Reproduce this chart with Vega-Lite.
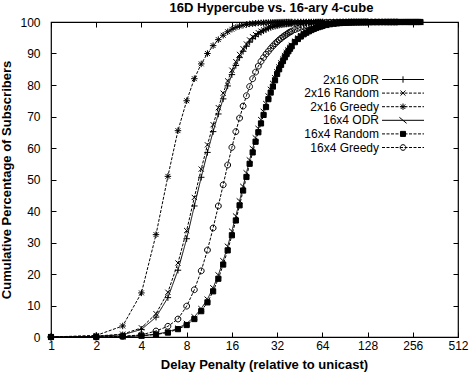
{
  "$schema": "https://vega.github.io/schema/vega-lite/v6.json",
  "width": 407,
  "height": 315,
  "autosize": "none",
  "padding": {"left": 51, "top": 22, "right": 16, "bottom": 44},
  "background": "white",
  "title": {"text": "16D Hypercube vs. 16-ary 4-cube", "font": "Liberation Sans", "fontSize": 13, "fontWeight": "bold", "color": "black", "dx": 17, "baseline": "bottom", "offset": 8, "dy": 20},
  "config": {
    "font": "Liberation Sans",
    "view": {"stroke": "black", "strokeWidth": 1.2},
    "axis": {"domain": false, "grid": false, "tickColor": "black", "tickSize": -5, "tickWidth": 1, "labelColor": "black", "labelFont": "Liberation Sans", "labelFontSize": 12, "titleColor": "black", "titleFont": "Liberation Sans", "titleFontSize": 13, "titleFontWeight": "bold"}
  },
  "data": {"values": [
    {"x":1,"2x16 ODR":0,"2x16 Random":0,"2x16 Greedy":0,"16x4 ODR":0,"16x4 Random":0,"16x4 Greedy":0},
    {"x":2,"2x16 ODR":0.2,"2x16 Random":0.3,"2x16 Greedy":0.5,"16x4 ODR":0,"16x4 Random":0,"16x4 Greedy":0},
    {"x":3,"2x16 ODR":0.7,"2x16 Random":0.9,"2x16 Greedy":3.5,"16x4 ODR":0.1,"16x4 Random":0.2,"16x4 Greedy":0.2},
    {"x":4,"2x16 ODR":2.4,"2x16 Random":2.9,"2x16 Greedy":14,"16x4 ODR":0.4,"16x4 Random":0.4,"16x4 Greedy":0.7},
    {"x":5,"2x16 ODR":6.3,"2x16 Random":7.4,"2x16 Greedy":32.5,"16x4 ODR":0.9,"16x4 Random":0.8,"16x4 Greedy":1.9},
    {"x":6,"2x16 ODR":12.5,"2x16 Random":14.2,"2x16 Greedy":51,"16x4 ODR":1.6,"16x4 Random":1.4,"16x4 Greedy":3.4},
    {"x":7,"2x16 ODR":21.2,"2x16 Random":23.5,"2x16 Greedy":65.5,"16x4 ODR":2.8,"16x4 Random":2.5,"16x4 Greedy":5.7},
    {"x":8,"2x16 ODR":31.2,"2x16 Random":33.8,"2x16 Greedy":75,"16x4 ODR":4.3,"16x4 Random":3.8,"16x4 Greedy":9.8},
    {"x":9,"2x16 ODR":41.6,"2x16 Random":44.3,"2x16 Greedy":82,"16x4 ODR":6.4,"16x4 Random":5.7,"16x4 Greedy":15},
    {"x":10,"2x16 ODR":50.7,"2x16 Random":53.3,"2x16 Greedy":86.7,"16x4 ODR":9,"16x4 Random":8.2,"16x4 Greedy":21},
    {"x":11,"2x16 ODR":58.6,"2x16 Random":61,"2x16 Greedy":90,"16x4 ODR":12,"16x4 Random":11,"16x4 Greedy":27.6},
    {"x":12,"2x16 ODR":65.2,"2x16 Random":67.4,"2x16 Greedy":92.5,"16x4 ODR":15.6,"16x4 Random":14.5,"16x4 Greedy":34.6},
    {"x":13,"2x16 ODR":70.8,"2x16 Random":72.8,"2x16 Greedy":94.4,"16x4 ODR":19.7,"16x4 Random":18.5,"16x4 Greedy":41.6},
    {"x":14,"2x16 ODR":75.6,"2x16 Random":77.4,"2x16 Greedy":95.8,"16x4 ODR":24.2,"16x4 Random":23,"16x4 Greedy":48.3},
    {"x":15,"2x16 ODR":79.7,"2x16 Random":81.3,"2x16 Greedy":96.9,"16x4 ODR":28.8,"16x4 Random":27.5,"16x4 Greedy":54.6},
    {"x":16,"2x16 ODR":83.3,"2x16 Random":84.7,"2x16 Greedy":97.7,"16x4 ODR":33.6,"16x4 Random":32.3,"16x4 Greedy":60.2},
    {"x":17,"2x16 ODR":86.2,"2x16 Random":87.4,"2x16 Greedy":98.3,"16x4 ODR":38.4,"16x4 Random":37,"16x4 Greedy":65.2},
    {"x":18,"2x16 ODR":88.7,"2x16 Random":89.7,"2x16 Greedy":98.7,"16x4 ODR":43.2,"16x4 Random":41.8,"16x4 Greedy":69.5},
    {"x":19,"2x16 ODR":90.7,"2x16 Random":91.5,"2x16 Greedy":99,"16x4 ODR":47.8,"16x4 Random":46.5,"16x4 Greedy":73.3},
    {"x":20,"2x16 ODR":92.3,"2x16 Random":93,"2x16 Greedy":99.2,"16x4 ODR":52.1,"16x4 Random":50.8,"16x4 Greedy":76.6},
    {"x":21,"2x16 ODR":93.6,"2x16 Random":94.3,"2x16 Greedy":99.4,"16x4 ODR":56.2,"16x4 Random":55,"16x4 Greedy":79.5},
    {"x":22,"2x16 ODR":94.7,"2x16 Random":95.3,"2x16 Greedy":99.5,"16x4 ODR":59.8,"16x4 Random":58.6,"16x4 Greedy":82},
    {"x":23,"2x16 ODR":95.5,"2x16 Random":96,"2x16 Greedy":99.6,"16x4 ODR":63.2,"16x4 Random":62,"16x4 Greedy":84.1},
    {"x":24,"2x16 ODR":96.2,"2x16 Random":96.6,"2x16 Greedy":99.7,"16x4 ODR":66.2,"16x4 Random":65,"16x4 Greedy":86},
    {"x":25,"2x16 ODR":96.8,"2x16 Random":97.1,"2x16 Greedy":99.75,"16x4 ODR":69,"16x4 Random":67.8,"16x4 Greedy":87.5},
    {"x":26,"2x16 ODR":97.2,"2x16 Random":97.5,"2x16 Greedy":99.8,"16x4 ODR":71.6,"16x4 Random":70.5,"16x4 Greedy":88.7},
    {"x":27,"2x16 ODR":97.6,"2x16 Random":97.9,"2x16 Greedy":99.82,"16x4 ODR":74.1,"16x4 Random":73,"16x4 Greedy":89.8},
    {"x":28,"2x16 ODR":98,"2x16 Random":98.2,"2x16 Greedy":99.85,"16x4 ODR":76.5,"16x4 Random":75.5,"16x4 Greedy":90.7},
    {"x":29,"2x16 ODR":98.3,"2x16 Random":98.5,"2x16 Greedy":99.87,"16x4 ODR":78.6,"16x4 Random":77.6,"16x4 Greedy":91.6},
    {"x":30,"2x16 ODR":98.5,"2x16 Random":98.7,"2x16 Greedy":99.9,"16x4 ODR":80.5,"16x4 Random":79.5,"16x4 Greedy":92.4},
    {"x":31,"2x16 ODR":98.7,"2x16 Random":98.85,"2x16 Greedy":99.92,"16x4 ODR":82.3,"16x4 Random":81.5,"16x4 Greedy":93.1},
    {"x":32,"2x16 ODR":98.8,"2x16 Random":99,"2x16 Greedy":99.94,"16x4 ODR":84.2,"16x4 Random":83.5,"16x4 Greedy":93.7},
    {"x":33,"2x16 ODR":99,"2x16 Random":99.1,"2x16 Greedy":99.95,"16x4 ODR":85.7,"16x4 Random":85,"16x4 Greedy":94.3},
    {"x":34,"2x16 ODR":99.1,"2x16 Random":99.2,"2x16 Greedy":99.96,"16x4 ODR":87,"16x4 Random":86.4,"16x4 Greedy":94.8},
    {"x":35,"2x16 ODR":99.2,"2x16 Random":99.3,"2x16 Greedy":99.97,"16x4 ODR":88.2,"16x4 Random":87.6,"16x4 Greedy":95.3},
    {"x":36,"2x16 ODR":99.3,"2x16 Random":99.38,"2x16 Greedy":99.98,"16x4 ODR":89.3,"16x4 Random":88.8,"16x4 Greedy":95.7},
    {"x":37,"2x16 ODR":99.35,"2x16 Random":99.45,"2x16 Greedy":99.98,"16x4 ODR":90.3,"16x4 Random":89.8,"16x4 Greedy":96.1},
    {"x":38,"2x16 ODR":99.4,"2x16 Random":99.5,"2x16 Greedy":99.99,"16x4 ODR":91.1,"16x4 Random":90.7,"16x4 Greedy":96.5},
    {"x":39,"2x16 ODR":99.45,"2x16 Random":99.55,"2x16 Greedy":99.99,"16x4 ODR":91.9,"16x4 Random":91.5,"16x4 Greedy":96.8},
    {"x":40,"2x16 ODR":99.5,"2x16 Random":99.6,"2x16 Greedy":100,"16x4 ODR":92.6,"16x4 Random":92.3,"16x4 Greedy":97.1},
    {"x":42,"2x16 ODR":99.6,"2x16 Random":99.68,"2x16 Greedy":100,"16x4 ODR":93.9,"16x4 Random":93.6,"16x4 Greedy":97.6},
    {"x":44,"2x16 ODR":99.68,"2x16 Random":99.75,"2x16 Greedy":100,"16x4 ODR":94.9,"16x4 Random":94.6,"16x4 Greedy":98},
    {"x":46,"2x16 ODR":99.75,"2x16 Random":99.8,"2x16 Greedy":100,"16x4 ODR":95.7,"16x4 Random":95.4,"16x4 Greedy":98.35},
    {"x":48,"2x16 ODR":99.8,"2x16 Random":99.84,"2x16 Greedy":100,"16x4 ODR":96.3,"16x4 Random":96.1,"16x4 Greedy":98.65},
    {"x":50,"2x16 ODR":99.84,"2x16 Random":99.87,"2x16 Greedy":100,"16x4 ODR":96.8,"16x4 Random":96.6,"16x4 Greedy":98.9},
    {"x":52,"2x16 ODR":99.87,"2x16 Random":99.9,"2x16 Greedy":100,"16x4 ODR":97.2,"16x4 Random":97.05,"16x4 Greedy":99.1},
    {"x":54,"2x16 ODR":99.9,"2x16 Random":99.92,"2x16 Greedy":100,"16x4 ODR":97.6,"16x4 Random":97.45,"16x4 Greedy":99.25},
    {"x":56,"2x16 ODR":99.92,"2x16 Random":99.94,"2x16 Greedy":100,"16x4 ODR":97.9,"16x4 Random":97.8,"16x4 Greedy":99.38},
    {"x":58,"2x16 ODR":99.94,"2x16 Random":99.95,"2x16 Greedy":100,"16x4 ODR":98.2,"16x4 Random":98.1,"16x4 Greedy":99.5},
    {"x":60,"2x16 ODR":99.95,"2x16 Random":99.96,"2x16 Greedy":100,"16x4 ODR":98.45,"16x4 Random":98.35,"16x4 Greedy":99.58},
    {"x":62,"2x16 ODR":99.96,"2x16 Random":99.97,"2x16 Greedy":100,"16x4 ODR":98.65,"16x4 Random":98.55,"16x4 Greedy":99.66},
    {"x":64,"2x16 ODR":99.97,"2x16 Random":99.98,"2x16 Greedy":100,"16x4 ODR":98.85,"16x4 Random":98.75,"16x4 Greedy":99.72},
    {"x":68,"2x16 ODR":99.98,"2x16 Random":99.99,"16x4 ODR":99.1,"16x4 Random":99.05,"16x4 Greedy":99.8},
    {"x":72,"2x16 ODR":99.99,"2x16 Random":100,"16x4 ODR":99.35,"16x4 Random":99.3,"16x4 Greedy":99.86},
    {"x":76,"2x16 ODR":100,"2x16 Random":100,"16x4 ODR":99.5,"16x4 Random":99.45,"16x4 Greedy":99.9},
    {"x":80,"2x16 ODR":100,"2x16 Random":100,"16x4 ODR":99.6,"16x4 Random":99.57,"16x4 Greedy":99.93},
    {"x":84,"2x16 ODR":100,"2x16 Random":100,"16x4 ODR":99.68,"16x4 Random":99.66,"16x4 Greedy":99.95},
    {"x":88,"2x16 ODR":100,"2x16 Random":100,"16x4 ODR":99.75,"16x4 Random":99.73,"16x4 Greedy":99.96},
    {"x":92,"2x16 ODR":100,"2x16 Random":100,"16x4 ODR":99.8,"16x4 Random":99.78,"16x4 Greedy":99.97},
    {"x":96,"2x16 ODR":100,"2x16 Random":100,"16x4 ODR":99.84,"16x4 Random":99.82,"16x4 Greedy":99.98},
    {"x":100,"2x16 ODR":100,"2x16 Random":100,"16x4 ODR":99.87,"16x4 Random":99.85,"16x4 Greedy":99.99},
    {"x":104,"2x16 ODR":100,"2x16 Random":100,"16x4 ODR":99.89,"16x4 Random":99.88,"16x4 Greedy":100},
    {"x":108,"2x16 ODR":100,"2x16 Random":100,"16x4 ODR":99.91,"16x4 Random":99.9,"16x4 Greedy":100},
    {"x":112,"2x16 ODR":100,"2x16 Random":100,"16x4 ODR":99.92,"16x4 Random":99.92,"16x4 Greedy":100},
    {"x":116,"2x16 ODR":100,"2x16 Random":100,"16x4 ODR":99.93,"16x4 Random":99.93,"16x4 Greedy":100},
    {"x":120,"2x16 ODR":100,"2x16 Random":100,"16x4 ODR":99.94,"16x4 Random":99.94,"16x4 Greedy":100},
    {"x":124,"2x16 ODR":100,"2x16 Random":100,"16x4 ODR":99.95,"16x4 Random":99.95,"16x4 Greedy":100},
    {"x":128,"2x16 ODR":100,"2x16 Random":100,"16x4 ODR":99.96,"16x4 Random":99.96,"16x4 Greedy":100},
    {"x":136,"16x4 ODR":99.97,"16x4 Random":99.97,"16x4 Greedy":100},
    {"x":144,"16x4 ODR":99.98,"16x4 Random":99.98,"16x4 Greedy":100},
    {"x":152,"16x4 ODR":99.98,"16x4 Random":99.98,"16x4 Greedy":100},
    {"x":160,"16x4 ODR":99.99,"16x4 Random":99.99,"16x4 Greedy":100},
    {"x":168,"16x4 ODR":99.99,"16x4 Random":99.99,"16x4 Greedy":100},
    {"x":176,"16x4 ODR":99.99,"16x4 Random":99.99,"16x4 Greedy":100},
    {"x":184,"16x4 ODR":99.99,"16x4 Random":99.99,"16x4 Greedy":100},
    {"x":192,"16x4 ODR":99.99,"16x4 Random":99.99,"16x4 Greedy":100},
    {"x":200,"16x4 ODR":99.99,"16x4 Random":99.99,"16x4 Greedy":100},
    {"x":208,"16x4 ODR":100,"16x4 Random":100},
    {"x":216,"16x4 ODR":100,"16x4 Random":100},
    {"x":224,"16x4 ODR":100,"16x4 Random":100},
    {"x":232,"16x4 ODR":100,"16x4 Random":100},
    {"x":240,"16x4 ODR":100,"16x4 Random":100},
    {"x":248,"16x4 ODR":100,"16x4 Random":100},
    {"x":256,"16x4 ODR":100,"16x4 Random":100},
    {"x":264,"16x4 ODR":100,"16x4 Random":100},
    {"x":272,"16x4 ODR":100,"16x4 Random":100},
    {"x":280,"16x4 ODR":100,"16x4 Random":100},
    {"x":288,"16x4 ODR":100,"16x4 Random":100}
  ]},
  "transform": [
    {"fold": ["2x16 ODR", "2x16 Random", "2x16 Greedy", "16x4 ODR", "16x4 Random", "16x4 Greedy"], "as": ["series", "pct"]},
    {"filter": "isValid(datum.pct)"}
  ],
  "layer": [
    {
      "mark": {"type": "line", "color": "black", "strokeWidth": 1},
      "encoding": {
        "x": {"field": "x", "type": "quantitative", "scale": {"type": "log", "base": 2, "domain": [1, 512]},
              "axis": {"orient": "bottom", "values": [1, 2, 4, 8, 16, 32, 64, 128, 256, 512], "labelPadding": 8, "title": "Delay Penalty (relative to unicast)", "titleX": 213, "titlePadding": 7, "labelFlush": false, "labelOverlap": false}},
        "y": {"field": "pct", "type": "quantitative", "scale": {"domain": [0, 100]},
              "axis": {"orient": "left", "values": [0, 10, 20, 30, 40, 50, 60, 70, 80, 90, 100], "labelPadding": 16, "title": "Cumulative Percentage of Subscribers", "titlePadding": 6}},
        "detail": {"field": "series"},
        "strokeDash": {"field": "series", "type": "nominal",
          "scale": {"range": [[3, 1.5], [1, 0], [3, 1.5], [3, 1.5], [1, 0], [3, 1.5]]},
          "legend": null}
      }
    },
    {
      "mark": {"type": "point", "filled": false, "color": "black", "strokeWidth": 1, "size": 42, "opacity": 1},
      "encoding": {
        "x": {"field": "x", "type": "quantitative", "axis": {"orient": "top", "values": [1, 2, 4, 8, 16, 32, 64, 128, 256, 512], "labels": false, "title": null}},
        "y": {"field": "pct", "type": "quantitative", "axis": {"orient": "right", "values": [0, 10, 20, 30, 40, 50, 60, 70, 80, 90, 100], "labels": false, "title": null}},
        "shape": {"field": "series", "type": "nominal",
          "scale": {"range": ["M0.9,0A0.9,0.9,0,1,1,-0.9,0A0.9,0.9,0,1,1,0.9,0Z", "M-0.9,-0.8L0.9,0.8", "M-0.8,-0.8L0.8,-0.8L0.8,0.8L-0.8,0.8Z", "M-1,0L1,0M0,-1L0,1M-0.75,-0.75L0.75,0.75M-0.75,0.75L0.75,-0.75", "M-1,0L1,0M0,-1L0,1", "M-0.8,-0.8L0.8,0.8M-0.8,0.8L0.8,-0.8"]},
          "legend": null},
        "fill": {"field": "series", "type": "nominal",
          "scale": {"domain": ["2x16 ODR", "2x16 Random", "2x16 Greedy", "16x4 ODR", "16x4 Random", "16x4 Greedy"],
                    "range": ["transparent", "transparent", "transparent", "transparent", "black", "transparent"]},
          "legend": {
            "orient": "none", "legendX": 285, "legendY": 51, "title": null, "padding": 0,
            "symbolSize": 144, "symbolStrokeWidth": 1, "symbolStrokeColor": "black",
            "labelAlign": "right", "labelOffset": -30.5, "symbolOffset": 60.5,
            "labelFontSize": 12, "labelFont": "Liberation Sans", "labelColor": "black", "rowPadding": 0.6,
            "encoding": {"symbols": {
              "shape": {"value": {"expr": "datum.value==='2x16 ODR'?'M-3.5,0L3.5,0M-0.53,0L0.53,0M0,-0.53L0,0.53':datum.value==='2x16 Random'?'M-3.5,0L-3,0M-2.75,0L-2.25,0M-2,0L-1.5,0M-1.25,0L-0.75,0M-0.5,0L0,0M0.25,0L0.75,0M1,0L1.5,0M1.75,0L2.25,0M2.5,0L3,0M3.25,0L3.5,0M-0.42,-0.42L0.42,0.42M-0.42,0.42L0.42,-0.42':datum.value==='2x16 Greedy'?'M-3.5,0L-3,0M-2.75,0L-2.25,0M-2,0L-1.5,0M-1.25,0L-0.75,0M-0.5,0L0,0M0.25,0L0.75,0M1,0L1.5,0M1.75,0L2.25,0M2.5,0L3,0M3.25,0L3.5,0M-0.53,0L0.53,0M0,-0.53L0,0.53M-0.38,-0.38L0.38,0.38M-0.38,0.38L0.38,-0.38':datum.value==='16x4 ODR'?'M-3.5,0L3.5,0M-0.6,-0.5L0.6,0.5':datum.value==='16x4 Random'?'M-3.5,0L-3,0M-2.75,0L-2.25,0M-2,0L-1.5,0M-1.25,0L-0.75,0M-0.5,0L0,0M0.25,0L0.75,0M1,0L1.5,0M1.75,0L2.25,0M2.5,0L3,0M3.25,0L3.5,0M-0.42,-0.42L0.42,-0.42L0.42,0.42L-0.42,0.42Z':'M-3.5,0L-3,0M-2.75,0L-2.25,0M-2,0L-1.5,0M-1.25,0L-0.75,0M-0.5,0L0,0M0.25,0L0.75,0M1,0L1.5,0M1.75,0L2.25,0M2.5,0L3,0M3.25,0L3.5,0M0.47,0A0.47,0.47,0,1,1,-0.47,0A0.47,0.47,0,1,1,0.47,0Z'"}},
              "fill": {"value": {"expr": "datum.value==='16x4 Random'?'black':'transparent'"}},
              "stroke": {"value": "black"},
              "strokeWidth": {"value": 1},
              "size": {"value": 144},
              "opacity": {"value": 1}
            }}
          }}
      }
    }
  ]
}
